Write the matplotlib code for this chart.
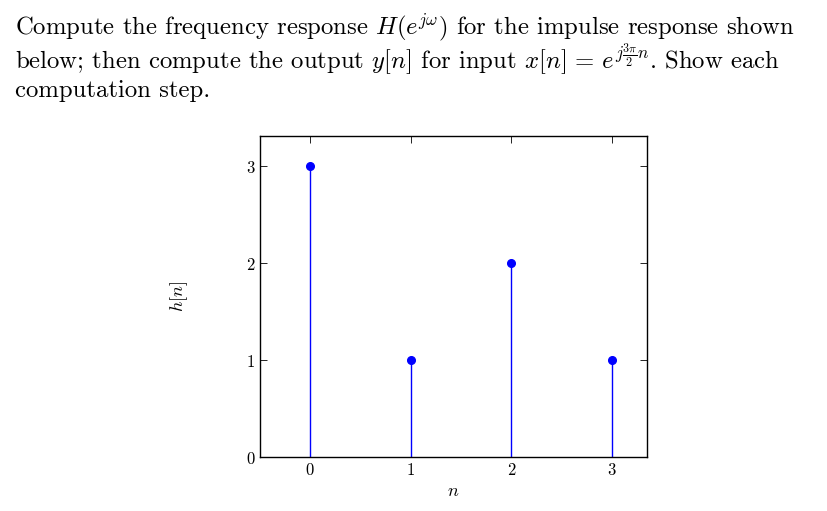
import matplotlib
matplotlib.use("Agg")
import matplotlib.pyplot as plt

plt.rcParams['font.family'] = 'serif'
plt.rcParams['font.serif'] = ['cmr10', 'DejaVu Serif']
plt.rcParams['mathtext.fontset'] = 'cm'
plt.rcParams['axes.formatter.use_mathtext'] = True

n = [0, 1, 2, 3]
h = [3, 1, 2, 1]

fig = plt.figure(figsize=(8.27, 5.11), dpi=100)

lines = [
    r"Compute the frequency response $H(e^{j\omega})$ for the impulse response shown",
    r"below; then compute the output $y[n]$ for input $x[n]\,=\,e^{j\frac{3\pi}{2}n}$. Show each",
    r"computation step.",
]
baselines = [34, 68, 97]
for s, yb in zip(lines, baselines):
    fig.text(15 / 827, 1 - yb / 511, s, fontsize=17.8, ha='left', va='baseline')

ax = fig.add_axes([260 / 827, 54 / 511, 387 / 827, 321 / 511])
ml, sl, bl = ax.stem(n, h, linefmt='b-', markerfmt='bo', basefmt=' ')
plt.setp(sl, linewidth=1.0)
plt.setp(ml, markersize=5.5)
ax.set_xlim(-0.5, 3.35)
ax.set_ylim(0, 3.31)
ax.set_xticks(n)
ax.set_yticks([0, 1, 2, 3])
ax.tick_params(direction='in', top=True, right=True, labelsize=12, length=5, width=0.6)
ax.set_xlabel(r"$n$", fontsize=13)
ax.set_ylabel(r"$h[n]$", fontsize=13, labelpad=40)
for sp in ax.spines.values():
    sp.set_linewidth(1.0)

fig.savefig("out.png", dpi=100)
